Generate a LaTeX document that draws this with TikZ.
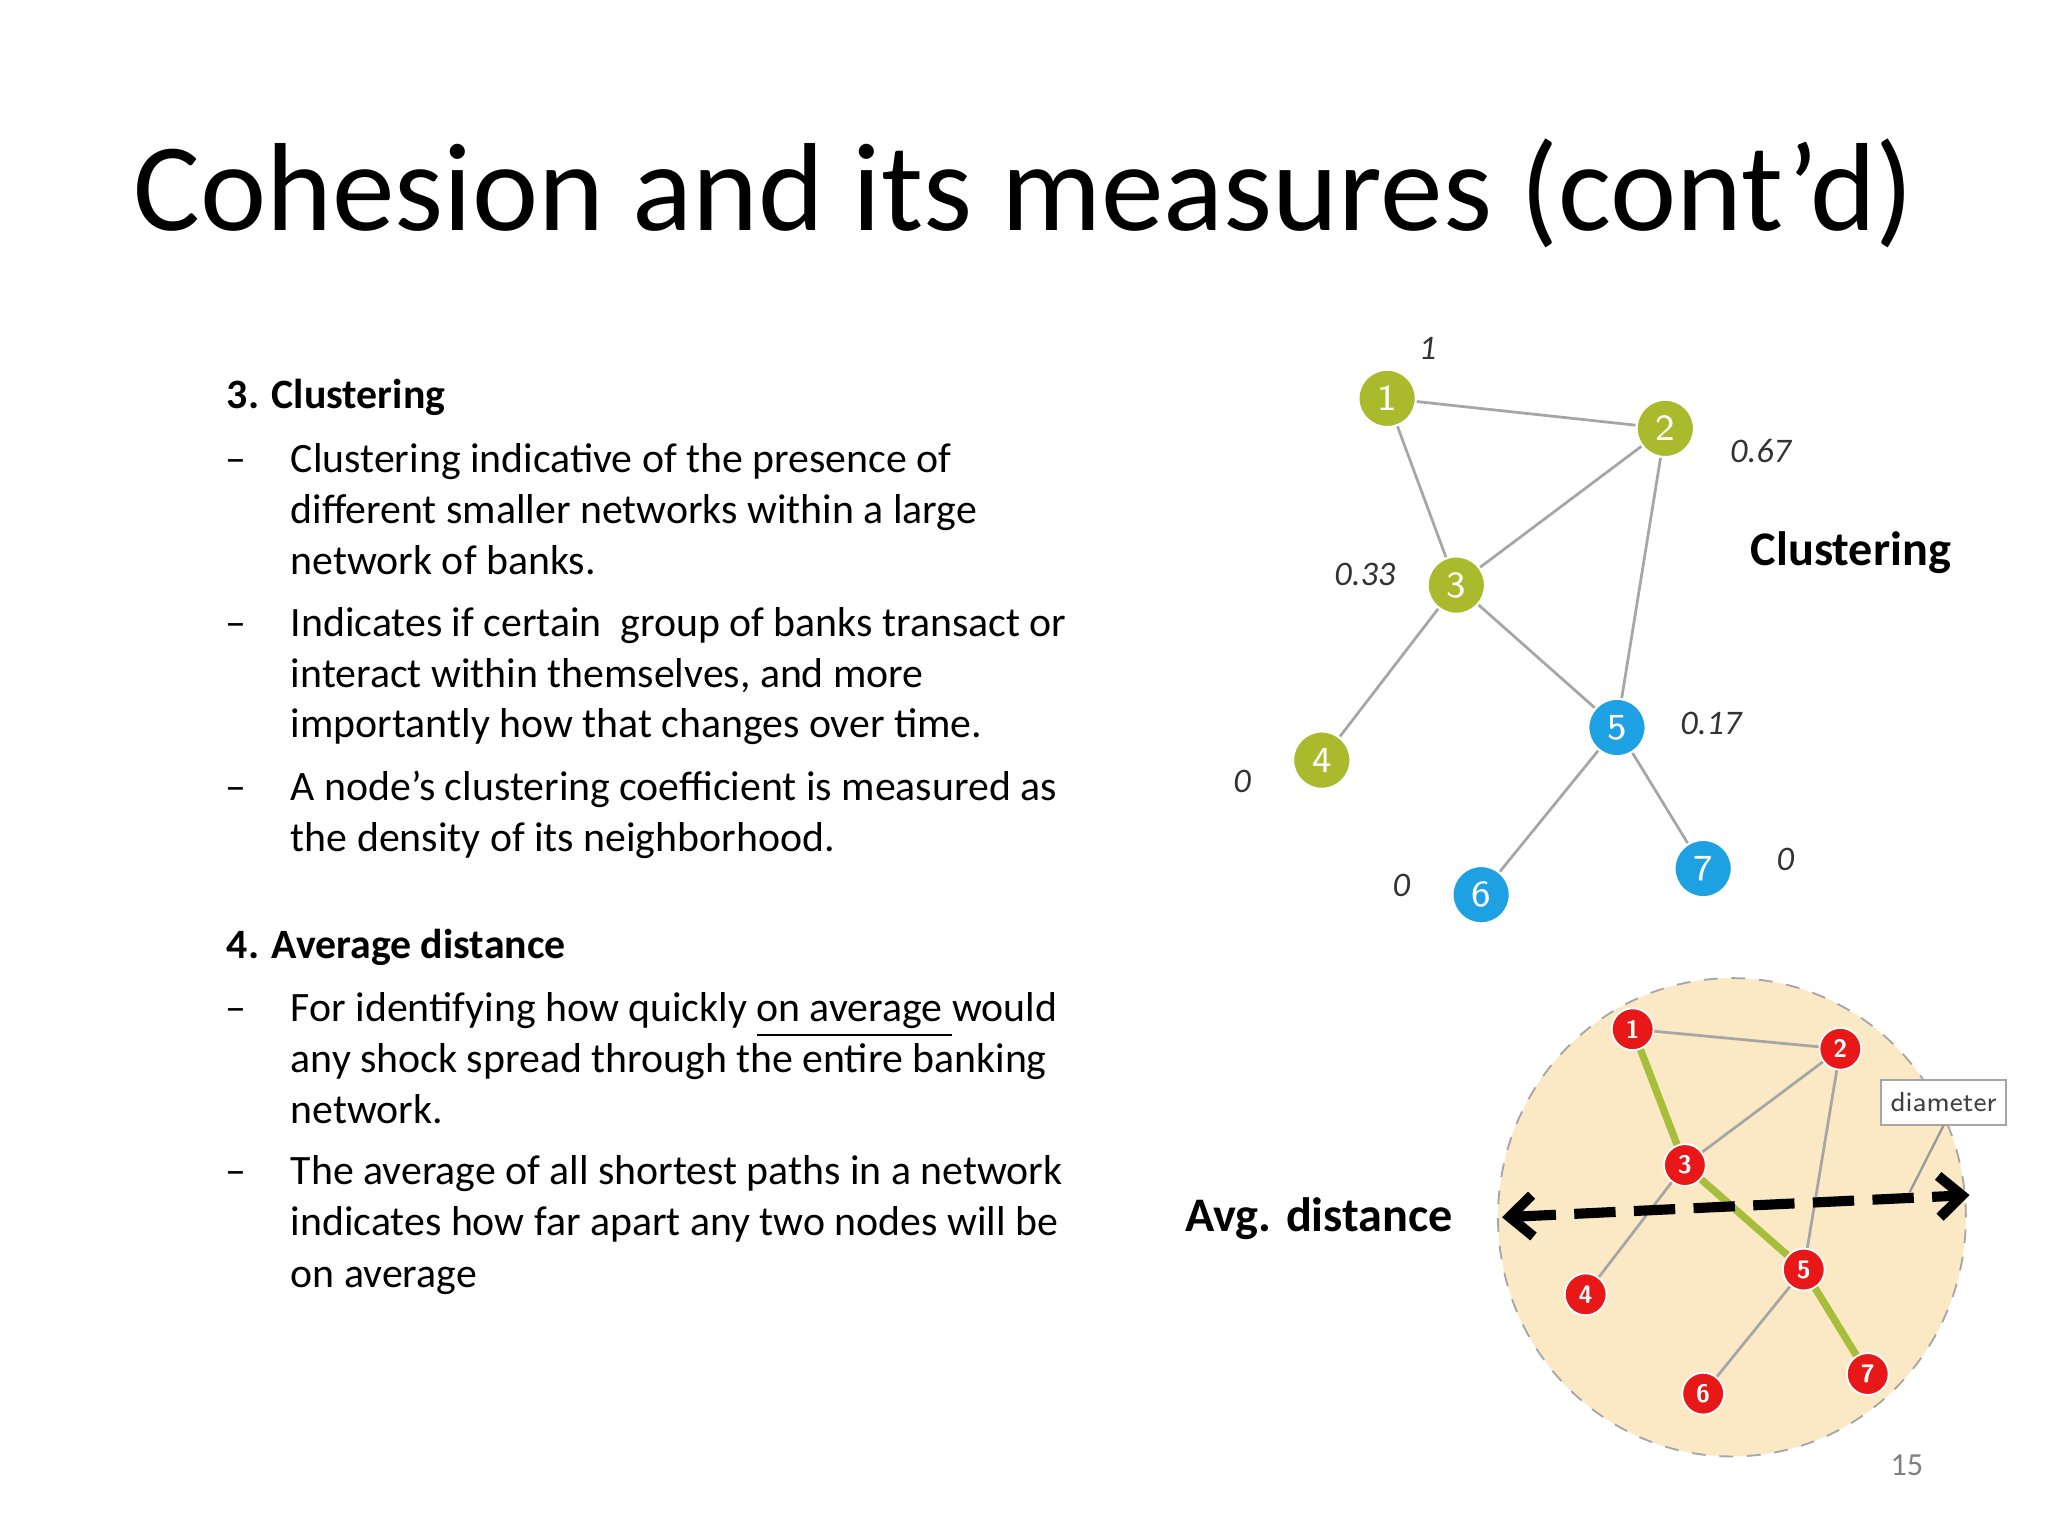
\documentclass[tikz,border=0pt]{standalone}
\usepackage{fontspec}
\setmainfont{Carlito}
\usetikzlibrary{arrows.meta,shapes.geometric}
\definecolor{olive}{HTML}{A9BA2C}
\definecolor{bluen}{HTML}{1DA1E2}
\definecolor{redn}{HTML}{E81818}
\definecolor{disk}{HTML}{FBE9C6}
\definecolor{greenp}{HTML}{A6BE3A}
\tikzset{
 body/.style={anchor=base west,inner sep=0pt,font=\fontsize{9.1}{10}\selectfont},
 head/.style={body,font=\fontsize{9.1}{10}\selectfont\bfseries},
 gn/.style={circle,draw=white,line width=0.5pt,fill=olive,minimum size=0.44cm,inner sep=0pt,text=white,font=\fontsize{8}{8}\selectfont\sffamily},
 bn/.style={gn,fill=bluen},
 rn/.style={circle,draw=white,line width=0.4pt,fill=redn,minimum size=0.32cm,inner sep=0pt,text=white,font=\fontsize{5.5}{6}\selectfont\sffamily\bfseries},
 ed/.style={draw=gray!70,line width=0.6pt},
 ge/.style={draw=greenp,line width=1.6pt},
 cl/.style={font=\fontsize{7.5}{8}\selectfont\itshape,text=black!80},
}
\begin{document}
\begin{tikzpicture}[x=0.01cm,y=-0.01cm]
\useasboundingbox (0,0) rectangle (1568,1176);
\node[font=\fontsize{27.3}{30}\selectfont] (title) at (784,148) {Cohesion and its measures (cont’d)};
% left text
\node[head] (h3) at (173,313) {3. Clustering};
\foreach \y/\t in {362/{Clustering indicative of the presence of},401/{different smaller networks within a large},440/{network of banks.},487/{Indicates if certain\ \ group of banks transact or},526/{interact within themselves, and more},565/{importantly how that changes over time.},613/{A node’s clustering coefficient is measured as},652/{the density of its neighborhood.},782/{For identifying how quickly \underline{on average }would},821/{any shock spread through the entire banking},860/{network.},907/{The average of all shortest paths in a network},946/{indicates how far apart any two nodes will be},986/{on average}}
  \node[body] at (222,\y) {\t};
\foreach \y in {362,487,613,782,907}
  \node[body] at (172,\y) {–};
\node[head] (h4) at (173,734) {4. Average distance};
% top graph
\node[gn] (a1) at (1062,305) {1};
\node[gn] (a2) at (1275,328) {2};
\node[gn] (a3) at (1115,448) {3};
\node[gn] (a4) at (1012,582) {4};
\node[bn] (a5) at (1238,557) {5};
\node[bn] (a6) at (1134,685) {6};
\node[bn] (a7) at (1304,665) {7};
\foreach \a/\b in {a1/a2,a1/a3,a2/a3,a2/a5,a3/a5,a3/a4,a5/a6,a5/a7}
  \draw[ed] (\a) -- (\b);
\node[cl] (l1) at (1093,267) {1};
\node[cl] (l2) at (1348,345) {0.67};
\node[cl] (l3) at (1045,440) {0.33};
\node[cl] (l4) at (951,598) {0};
\node[cl] (l5) at (1310,554) {0.17};
\node[cl] (l6) at (1073,678) {0};
\node[cl] (l7) at (1367,658) {0};
\node[font=\fontsize{10.5}{12}\selectfont\bfseries] (clt) at (1417,423) {Clustering};
% bottom graph
\node[draw=gray!70,dashed,fill=disk,ellipse,minimum width=3.58cm,minimum height=3.66cm] (dk) at (1326,932) {};
\node[rn] (b1) at (1250,788) {1};
\node[rn] (b2) at (1409,803) {2};
\node[rn] (b3) at (1290,892) {3};
\node[rn] (b4) at (1214,991) {4};
\node[rn] (b5) at (1381,972) {5};
\node[rn] (b6) at (1304,1067) {6};
\node[rn] (b7) at (1430,1052) {7};
\foreach \a/\b in {b1/b2,b2/b3,b2/b5,b3/b4,b5/b6}
  \draw[ed] (\a) -- (\b);
\foreach \a/\b in {b1/b3,b3/b5,b5/b7}
  \draw[ge] (\a) -- (\b);
\coordinate (dl) at (1150,932);
\coordinate (dr) at (1508,915);
\draw[line width=2.2pt,dash pattern=on 9pt off 4pt,{Straight Barb[length=5pt,width=9pt]}-{Straight Barb[length=5pt,width=9pt]}] (dl) -- (dr);
\node[draw=gray!70,fill=white,font=\fontsize{6}{7}\selectfont\sffamily,text=black!75,inner sep=2pt,minimum height=0.34cm] (dia) at (1488,844) {diameter};
\coordinate (dt) at (1462,913);
\draw[gray!80,line width=0.5pt] (dia.south) -- (dt);
\node[font=\fontsize{10.5}{12}\selectfont\bfseries] (avg) at (1010,933) {Avg. distance};
\node[font=\fontsize{7}{8}\selectfont,text=gray] (pg) at (1460,1122) {15};
\end{tikzpicture}
\end{document}
